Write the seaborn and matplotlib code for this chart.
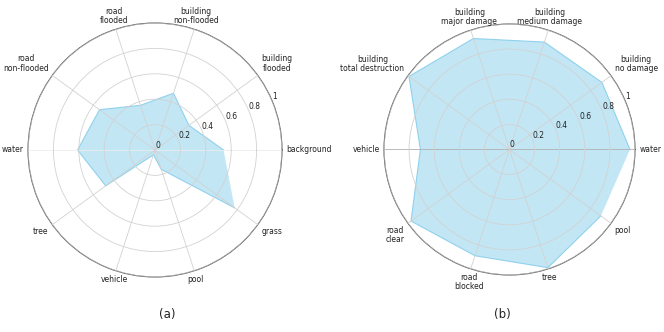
import numpy as np
import matplotlib
matplotlib.use("Agg")
import matplotlib.pyplot as plt
import seaborn as sns

# ---- data ----
cats_a = ["background", "building\nflooded", "building\nnon-flooded", "road\nflooded",
          "road\nnon-flooded", "water", "tree", "vehicle", "pool", "grass"]
vals_a = [0.54, 0.33, 0.47, 0.37, 0.54, 0.61, 0.48, 0.04, 0.16, 0.775]

cats_b = ["water", "building\nno damage", "building\nmedium damage", "building\nmajor damage",
          "building\ntotal destruction", "vehicle", "road\nclear", "road\nblocked", "tree", "pool"]
vals_b = [0.96, 0.91, 0.90, 0.93, 0.99, 0.71, 0.97, 0.89, 0.99, 0.90]

rticks = [0, 0.2, 0.4, 0.6, 0.8, 1.0]
rtick_labels = ["0", "0.2", "0.4", "0.6", "0.8", "1"]
captions = ["(a)", "(b)"]

sns.set_theme(style="white")
plt.rcParams['font.family'] = ['DejaVu Sans']

fill_color = sns.color_palette(["skyblue"])[0]

fig = plt.figure(figsize=(6.64, 3.32), dpi=100)
axes_rects = [[0.0422, 0.1657, 0.3825, 0.765], [0.5783, 0.1717, 0.378, 0.756]]
caption_x = [0.2515, 0.756]
hline_colors = ["#ececec", "#b0b0b0"]


def align_for(angle_deg):
    c = np.cos(np.deg2rad(angle_deg))
    s = np.sin(np.deg2rad(angle_deg))
    if c > 0.5:
        ha = "left"
    elif c < -0.5:
        ha = "right"
    else:
        ha = "center"
    if s > 0.2:
        va = "bottom"
    elif s < -0.2:
        va = "top"
    else:
        va = "center"
    return ha, va


for i, (cats, vals) in enumerate([(cats_a, vals_a), (cats_b, vals_b)]):
    ax = fig.add_axes(axes_rects[i], projection="polar")
    n = len(cats)
    theta = np.linspace(0, 2 * np.pi, n, endpoint=False)
    th_closed = np.concatenate([theta, theta[:1]])
    r_closed = np.concatenate([vals, vals[:1]])

    ax.fill(th_closed, r_closed, color=fill_color, alpha=0.5, lw=0, zorder=1)
    sns.lineplot(x=th_closed, y=r_closed, sort=False, ax=ax, color=fill_color,
                 lw=0.8, alpha=0.9, zorder=2)

    ax.set_ylim(0, 1)
    ax.set_yticks(rticks)
    ax.set_yticklabels(rtick_labels, fontsize=5.5, color="#222222")
    ax.set_rlabel_position(22.5)
    ax.set_xticks(theta)
    ax.set_xticklabels([])
    ax.set_xlabel("")
    ax.set_ylabel("")
    ax.grid(True, color="#d2d2d2", lw=0.6)
    ax.set_axisbelow(False)
    gl = ax.xaxis.get_gridlines()
    for k, line in enumerate(gl):
        if k in (0, n // 2):
            line.set_color(hline_colors[i])
    ax.spines["polar"].set_color("#606060")
    ax.spines["polar"].set_linewidth(0.8)
    ax.tick_params(pad=0)

    for ang, lab in zip(theta, cats):
        ha, va = align_for(np.rad2deg(ang))
        ax.text(ang, 1.035, lab, ha=ha, va=va, fontsize=5.5, color="#222222",
                multialignment="center", linespacing=1.05)

    fig.text(caption_x[i], 0.054, captions[i], ha="center", va="center", fontsize=8.5,
             color="#222222")

fig.savefig("out.png", dpi=100)
